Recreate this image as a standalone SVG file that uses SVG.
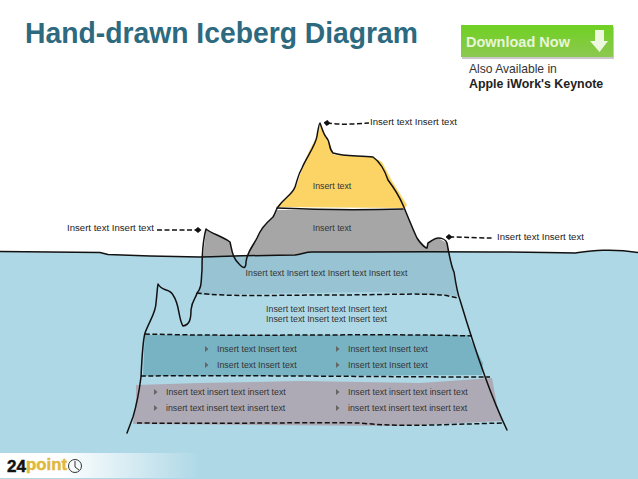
<svg xmlns="http://www.w3.org/2000/svg" width="638" height="479" viewBox="0 0 638 479">
<style>
text{font-family:"Liberation Sans",Arial,sans-serif;font-size:8.8px;fill:#333}
.o{fill:none;stroke:#111;stroke-width:1.5;stroke-linecap:round;stroke-linejoin:round}
.d{fill:none;stroke:#111;stroke-width:1.5;stroke-dasharray:5 2.5}
.m{text-anchor:middle}
.b{fill:#666}
.l{font-size:9.6px;fill:#222}
</style>
<defs>
<linearGradient id="fade" x1="0" x2="1" y1="0" y2="0"><stop offset="0" stop-color="#fff"/><stop offset="0.3" stop-color="#fff"/><stop offset="1" stop-color="#aed8e6"/></linearGradient>
<linearGradient id="green" x1="0" x2="0" y1="0" y2="1"><stop offset="0" stop-color="#6fd122"/><stop offset="1" stop-color="#8cc850"/></linearGradient>
<marker id="dot" markerUnits="userSpaceOnUse" markerWidth="7" markerHeight="7" refX="3.500" refY="3.500" orient="auto"><path d="M0 3.500L3.500 .5L7 3.500L3.500 6.500Z" fill="#111"/></marker>
</defs>
<rect width="638" height="479" fill="#fff"/>
<path d="M0 252L100 252.500L108 254.500L150 256L200 257L295 255L312 252L450 251.500L575 253C590 251 610 248 638 252.500V479H0Z" fill="#aed8e6"/>
<rect x="0" y="453" width="200" height="25" fill="url(#fade)"/>
<g id="title"><text x="25" y="43" textLength="393" lengthAdjust="spacingAndGlyphs" style="font-size:30px;font-weight:bold;fill:#2d6a7f">Hand-drawn Iceberg Diagram</text></g>
<g id="download">
<rect x="462" y="27" width="152" height="32" fill="#888" opacity=".45"/>
<rect x="461" y="25" width="152" height="32" fill="url(#green)"/>
<text x="466" y="46.500" style="font-size:14.500px;font-weight:bold;fill:#e8f5d8">Download Now</text>
<path d="M595 30H604V41H608L599.500 52L590 41H595Z" fill="#eef8e0"/>
<text x="469" y="73" style="font-size:12.100px;fill:#333">Also Available in</text>
<text x="469" y="88" style="font-size:12.400px;font-weight:bold;fill:#222">Apple iWork's Keynote</text>
</g>
<g id="band-yellow"><path d="M320 124L325 135L330 144L334 155L373 157L382 162L392 181L407 205L405 208L276 207L290 195L297 184L302 169L309 151L317 136Z" fill="#fcd466"/><text x="332" y="189" class="m">Insert text</text></g>
<g id="band-gray">
<path d="M277 210L404 209L417 238L427 248L428 243L438 238L447 243L449 252L312 253L295 256L248 256L250 248L257 238L262 227L273 217Z" fill="#a6a6a6"/>
<path d="M206 230L220 236L230 242L233 257L203 257Z" fill="#a6a6a6"/>
<text x="332" y="231" class="m">Insert text</text></g>
<g id="band-water"><path d="M202 256L295 255L312 252L449 252L458 296L380 292L300 293L197 295L202 280Z" fill="#98c3d2"/><text x="326.500" y="276" class="m">Insert text Insert text Insert text Insert text</text></g>
<g id="band-mid"><text x="326.500" y="312" class="m">Insert text Insert text Insert text</text><text x="326.500" y="322" class="m">Insert text Insert text Insert text</text></g>
<g id="band-teal"><path d="M145 335H468L483 363L482 375L300 376L143 376L144 350Z" fill="#78b3c4"/>
<path class="b" d="M205 346l3.500 3l-3.500 3zM205 362l3.500 3l-3.500 3zM336 346l3.500 3l-3.500 3zM336 362l3.500 3l-3.500 3z"/>
<text x="217" y="352">Insert text Insert text</text><text x="217" y="368">Insert text Insert text</text><text x="348" y="352">Insert text Insert text</text><text x="348" y="368">Insert text Insert text</text></g>
<g id="band-purple"><path d="M136 385L200 383L300 381L420 383L492 378L497 405L502 421L400 426L133 424L136 400Z" fill="#aeaab5"/>
<path class="b" d="M154 389l3.500 3l-3.500 3zM154 405l3.500 3l-3.500 3zM336 389l3.500 3l-3.500 3zM336 405l3.500 3l-3.500 3z"/>
<text x="166" y="395">Insert text insert text insert text</text><text x="166" y="411">insert text insert text insert text</text><text x="348" y="395">Insert text insert text insert text</text><text x="348" y="411">insert text insert text insert text</text></g>
<g id="connectors">
<path class="o" d="M0 251.500L100 252.500L108 254.500L150 256L200 257C240 256 270 255 295 255C302 254 306 252 312 252C380 252 500 251 575 253C590 251 610 248 638 252.500"/>
<path class="o" d="M127 433L133 417C138 400 140 385 141 377C142 355 143 340 145 333C150 320 156 312 156 303C157 295 157 290 158 284C162 292 170 288 173 295C180 305 178 318 183 326C190 325 191 318 191 310C192 300 196 298 197 293C202 288 201 280 202 270C202 255 203 240 206 229C212 234 222 236 230 242C232 250 232 258 240 265C244 269 246 268 246 262C247 252 252 248 257 238C260 230 265 224 273 217C276 212 276 209 278 207C285 197 292 195 295 187C298 178 298 175 302 168C306 158 316 145 317 136C318 130 319 123 320 123C322 128 323 133 326 137C331 142 328 148 333 153C345 157 360 155 373 157C380 162 384 168 388 180C394 188 400 198 403 205C410 222 414 232 417 238C420 243 425 248 427 248L428 243C432 241 434 238 438 238C442 238 446 240 447 243C450 260 453 270 454 272C456 285 458 295 460 300C472 340 490 395 507 430"/>
<path class="o" d="M277 208C320 210 370 210 403 209"/>
<path class="d" d="M197 293C225 297 280 295 330 295C380 295 420 293 440 295C446 295 452 297 458 298"/>
<path class="d" d="M145 334C250 337 380 333 472 336"/>
<path class="d" d="M141 376C250 375 380 377 490 377"/>
<path class="d" d="M137 423C240 424 310 422 360 423C400 427 430 425 502 423"/>
<path class="d" marker-start="url(#dot)" d="M327 123C340 125 355 124 369 123"/>
<path class="d" marker-end="url(#dot)" d="M157 230H198"/>
<path class="d" marker-start="url(#dot)" d="M449 237C465 237 480 238 493 238"/>
</g>
<g id="labels"><text x="370" y="125" class="l">Insert text Insert text</text><text x="67" y="231" class="l">Insert text Insert text</text><text x="497" y="240" class="l">Insert text Insert text</text></g>
<g id="logo"><text x="7" y="472" style="font-size:17px;font-weight:bold;fill:#111;stroke:#111;stroke-width:.5">24</text><text x="26" y="470" textLength="41" lengthAdjust="spacingAndGlyphs" style="font-size:17px;font-weight:bold;fill:#dfb83c;stroke:#dfb83c;stroke-width:.5">point</text><circle cx="75" cy="466" r="6.500" fill="none" stroke="#333" stroke-width="1"/><path d="M75 461V467L79 470" fill="none" stroke="#333"/></g>
</svg>
